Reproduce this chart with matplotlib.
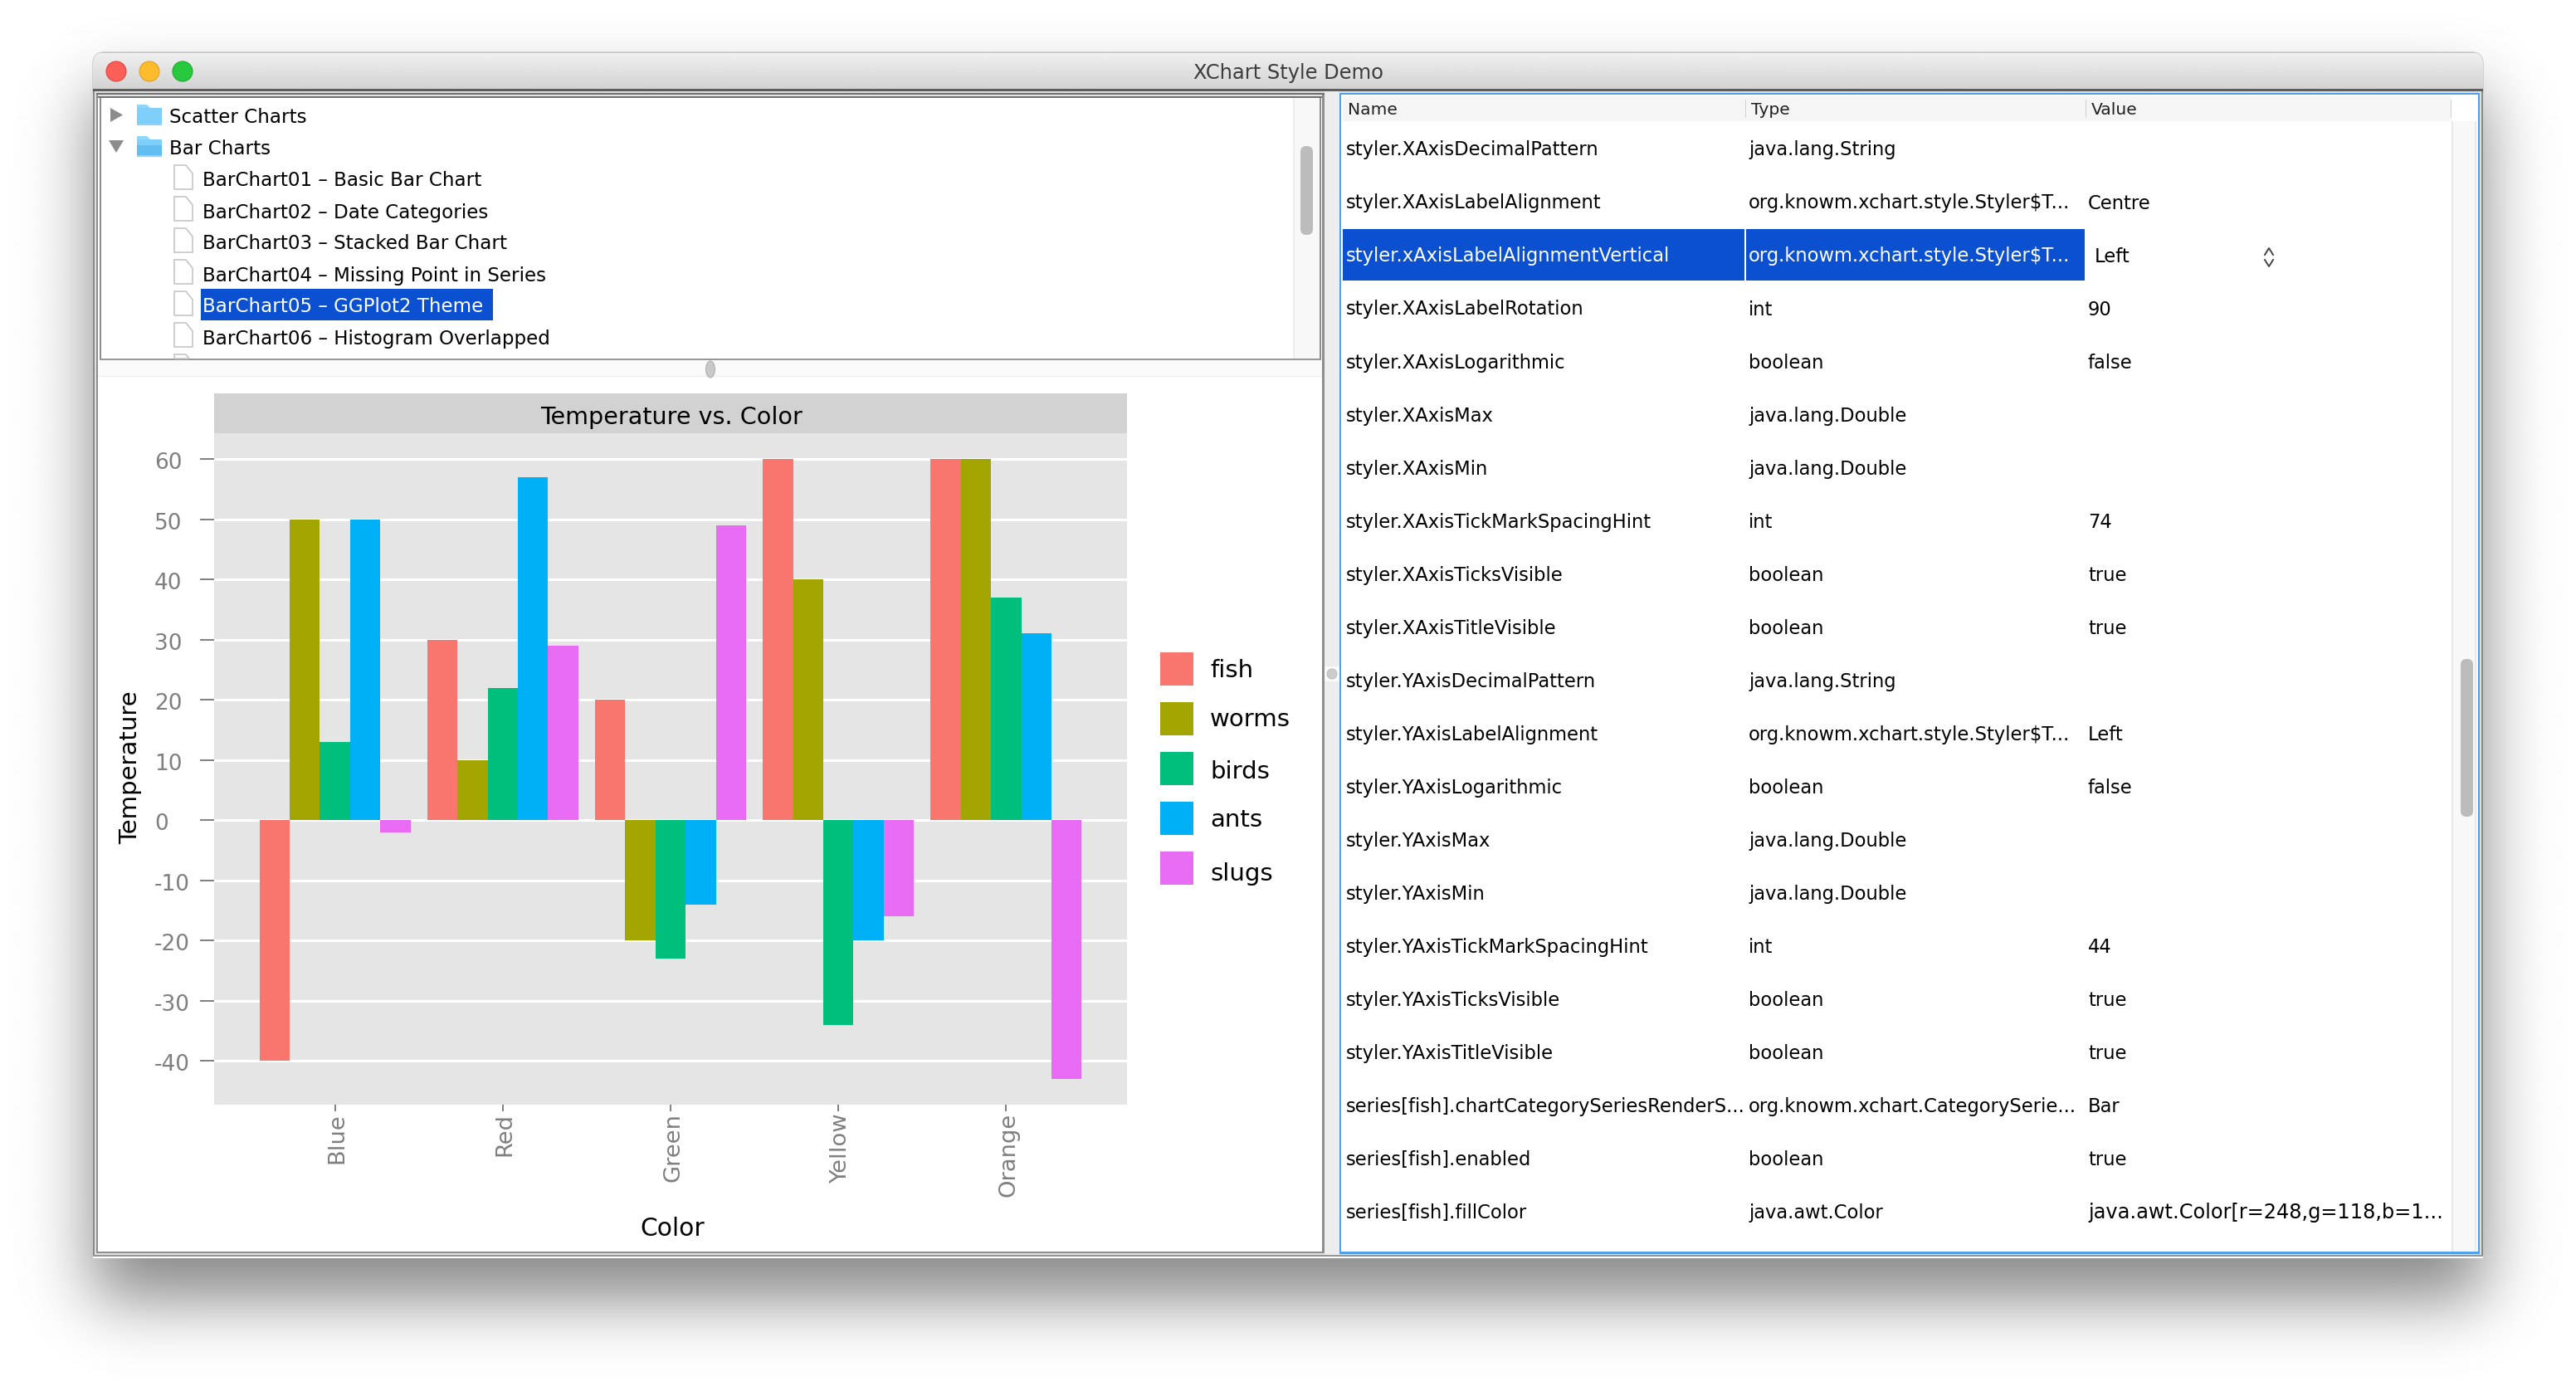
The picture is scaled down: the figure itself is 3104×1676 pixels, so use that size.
import numpy as np
import matplotlib
matplotlib.use("Agg")
import matplotlib.pyplot as plt
from matplotlib.patches import Rectangle, Circle, Polygon, FancyBboxPatch, Ellipse
from matplotlib.transforms import ScaledTranslation

# =========================
# Chart data
# =========================
categories = ["Blue", "Red", "Green", "Yellow", "Orange"]
series_names = ["fish", "worms", "birds", "ants", "slugs"]
fish = [-40, 30, 20, 60, 60]
worms = [50, 10, -20, 40, 60]
birds = [13, 22, -23, -34, 37]
ants = [50, 57, -14, -20, 31]
slugs = [-2, 29, 49, -16, -43]
series_colors = ["#f8766d", "#a3a500", "#00bf7d", "#00b0f6", "#e76bf3"]
y_ticks = [-40, -30, -20, -10, 0, 10, 20, 30, 40, 50, 60]

# =========================
# Window texts
# =========================
tree_folders = ["Scatter Charts", "Bar Charts"]
tree_items = [
    "BarChart01 \u2013 Basic Bar Chart",
    "BarChart02 \u2013 Date Categories",
    "BarChart03 \u2013 Stacked Bar Chart",
    "BarChart04 \u2013 Missing Point in Series",
    "BarChart05 \u2013 GGPlot2 Theme",
    "BarChart06 \u2013 Histogram Overlapped",
]
table_header = ["Name", "Type", "Value"]
row_names = [
    "styler.XAxisDecimalPattern",
    "styler.XAxisLabelAlignment",
    "styler.xAxisLabelAlignmentVertical",
    "styler.XAxisLabelRotation",
    "styler.XAxisLogarithmic",
    "styler.XAxisMax",
    "styler.XAxisMin",
    "styler.XAxisTickMarkSpacingHint",
    "styler.XAxisTicksVisible",
    "styler.XAxisTitleVisible",
    "styler.YAxisDecimalPattern",
    "styler.YAxisLabelAlignment",
    "styler.YAxisLogarithmic",
    "styler.YAxisMax",
    "styler.YAxisMin",
    "styler.YAxisTickMarkSpacingHint",
    "styler.YAxisTicksVisible",
    "styler.YAxisTitleVisible",
    "series[fish].chartCategorySeriesRenderS...",
    "series[fish].enabled",
    "series[fish].fillColor",
]
row_types = [
    "java.lang.String",
    "org.knowm.xchart.style.Styler$T...",
    "org.knowm.xchart.style.Styler$T...",
    "int",
    "boolean",
    "java.lang.Double",
    "java.lang.Double",
    "int",
    "boolean",
    "boolean",
    "java.lang.String",
    "org.knowm.xchart.style.Styler$T...",
    "boolean",
    "java.lang.Double",
    "java.lang.Double",
    "int",
    "boolean",
    "boolean",
    "org.knowm.xchart.CategorySerie...",
    "boolean",
    "java.awt.Color",
]
row_values = [
    "", "Centre", "Left", "90", "false", "", "", "74", "true", "true", "",
    "Left", "false", "", "", "44", "true", "true", "Bar", "true",
    "java.awt.Color[r=248,g=118,b=1...",
]

W, H = 3104, 1676
plt.rcParams["font.family"] = ["DejaVu Sans"]
fig = plt.figure(figsize=(W / 100, H / 100), dpi=100, facecolor="white")

# overlay in pixel coordinates for the window around the chart
bg = fig.add_axes([0, 0, 1, 1], zorder=0)
bg.set_xlim(0, W)
bg.set_ylim(H, 0)
bg.axis("off")


def soft_edge(n, start, stop, sigma=40):
    t = np.arange(n)
    k = np.exp(-0.5 * (np.arange(-160, 161) / sigma) ** 2)
    k /= k.sum()
    return np.convolve(((t >= start) & (t < stop)).astype(float), k, mode="same")


# =========================
# Window shadow
# =========================
shadow = np.outer(soft_edge(H, 112, 1566), soft_edge(W, 112, 2993)) * 0.47
bg.imshow(1 - shadow, cmap="gray", vmin=0, vmax=1, extent=(0, W, H, 0),
          aspect="auto", zorder=0, interpolation="bilinear")


def box(x0, y0, x1, y1, color, z=1):
    bg.add_patch(Rectangle((x0, y0), x1 - x0, y1 - y0, facecolor=color,
                           edgecolor="none", zorder=z))


def label(x, y, s, size=16.3, color="black", ha="left", z=5):
    bg.text(x, y, s, fontsize=size, color=color, ha=ha, va="center",
            zorder=z, parse_math=False)


# =========================
# Frame and title bar
# =========================
box(112, 90, 2992, 1516, "white")
box(112, 100, 2992, 1514, "#e0e0e0", z=1.01)
title_bar = FancyBboxPatch((112, 63), 2880, 60, boxstyle="round,pad=0,rounding_size=14",
                           facecolor="#d6d6d6", edgecolor="#c4c4c4", lw=1, zorder=1)
bg.add_patch(title_bar)
grad = bg.imshow(np.linspace(0.94, 0.825, 50).reshape(-1, 1), cmap="gray", vmin=0, vmax=1,
                 extent=(112, 2992, 107, 64), aspect="auto", zorder=1.1)
grad.set_clip_path(title_bar)
bg.set_xlim(0, W)
bg.set_ylim(H, 0)
box(112, 107, 2992, 110, "#5e5e5e", z=1.2)
box(112, 110, 114, 1514, "#8a8a8a", z=1.2)
box(2990, 110, 2992, 1514, "#8a8a8a", z=1.2)
box(112, 1512, 2992, 1514, "#969696", z=1.2)
box(114, 1514, 2992, 1516, "white", z=1.2)
for cx, c, e in [(140, "#fc5f57", "#e0443e"), (180, "#fdbc2e", "#dea123"), (220, "#28c83f", "#1aab29")]:
    bg.add_patch(Circle((cx, 86), 12, facecolor=c, edgecolor=e, lw=0.8, zorder=3))
label(1552, 88, "XChart Style Demo", size=17.4, color="#3c3c3c", ha="center")

# =========================
# Left side: tree and chart panel
# =========================
box(116, 112, 1596, 1510, "#8e8e8e", z=1.5)
box(116, 112, 1596, 114, "#707070", z=1.55)
box(118, 114, 1593, 1508, "white", z=1.6)
box(118, 114, 1593, 116, "#e4e4e4", z=1.7)
box(118, 116, 1593, 118, "#707070", z=1.7)
box(120, 118, 122, 432, "#8e8e8e", z=1.7)
box(1590, 118, 1592, 432, "#8e8e8e", z=1.7)
box(120, 432, 1592, 434, "#969696", z=1.7)
box(118, 434, 1593, 453, "#fafafa", z=1.7)
box(118, 453, 1593, 454, "#ececec", z=1.7)
bg.add_patch(Ellipse((856, 445), 11, 20, facecolor="#c8c8c8", edgecolor="#a4a4a4", lw=0.6, zorder=2))

# tree scrollbar
box(1558, 118, 1590, 432, "#f8f8f8", z=1.8)
box(1558, 118, 1560, 432, "#ececec", z=1.85)
bg.add_patch(FancyBboxPatch((1567, 176), 15, 107, boxstyle="round,pad=0,rounding_size=7",
                            facecolor="#bcbcbc", edgecolor="none", zorder=2))

# tree arrows
bg.add_patch(Polygon([(133, 130), (148, 138.5), (133, 147)], facecolor="#8c8c8c", edgecolor="none", zorder=3))
bg.add_patch(Polygon([(131, 169), (149, 169), (140, 184)], facecolor="#8c8c8c", edgecolor="none", zorder=3))


def folder(y, dark=False):
    bg.add_patch(Polygon([(165, y - 7), (165, y - 12), (177, y - 12), (181, y - 8), (195, y - 8), (195, y - 7)],
                         facecolor="#8ed6fc", edgecolor="none", zorder=3))
    box(165, y - 8, 195, y + 12, "#7ed0fb", z=3)
    if dark:
        box(165, y - 1, 195, y + 12, "#62bdf0", z=3.1)
    box(165, y + 11, 195, y + 13, "#a6cbe3", z=3.1)


def file_icon(y):
    bg.add_patch(Polygon([(210, y - 14), (224, y - 14), (232, y - 4), (232, y + 15), (210, y + 15)],
                         facecolor="white", edgecolor="#c6c6c6", lw=1.2, zorder=2.5))


folder(138)
folder(176, dark=True)
for i, s in enumerate(tree_folders):
    label(204, 142 + 38 * i, s, size=16.6)

box(242, 348, 594, 386, "#0a50d0", z=2.5)
for i, s in enumerate(tree_items):
    y = 218 + 38 * i
    file_icon(y - 5)
    label(244, y, s, size=16.6, color="white" if i == 4 else "black")

# the next icon is cut off by the bottom of the tree
bg.add_patch(Polygon([(210, 432), (210, 427), (224, 427), (228, 432)], facecolor="white",
                     edgecolor="#c6c6c6", lw=1.2, zorder=2.5))

# =========================
# Right side: property table
# =========================
box(1596, 110, 1614, 1512, "#ededed", z=1.5)
box(1596, 803, 1614, 821, "#fafafa", z=1.55)
bg.add_patch(Circle((1605, 812), 6, facecolor="#cccccc", edgecolor="#b4b4b4", lw=0.6, zorder=2))
box(1614, 112, 2988, 1511, "#4fa2ea", z=1.5)
box(1616, 114, 2986, 1508, "white", z=1.6)
box(1618, 116, 2953, 146, "#f5f5f5", z=1.7)
for sx in [2103, 2513, 2953]:
    box(sx, 120, sx + 1, 142, "#d4d4d4", z=1.8)
for sx, s in zip([1624, 2110, 2520], table_header):
    label(sx, 133, s, size=14.6, color="#222222")

box(2954, 146, 2984, 1508, "#f8f8f8", z=1.8)
box(2954, 146, 2956, 1508, "#e8e8e8", z=1.85)
box(2982, 146, 2984, 1508, "#e8e8e8", z=1.85)
bg.add_patch(FancyBboxPatch((2965, 794), 15, 190, boxstyle="round,pad=0,rounding_size=7",
                            facecolor="#bcbcbc", edgecolor="none", zorder=2))

box(1618, 276, 2102, 338, "#0a50d0", z=2)
box(2104, 276, 2512, 338, "#0a50d0", z=2)
for i in range(len(row_names)):
    y = 181 + 64 * i
    c = "white" if i == 2 else "black"
    label(1622, y, row_names[i], color=c)
    label(2107, y, row_types[i], color=c)
    if i == 2:
        label(2524, y + 1, row_values[i])
    elif i == len(row_names) - 1:
        label(2516, y, row_values[i], size=17.3)
    else:
        label(2516, y, row_values[i])

# spinner arrows of the open combo box
bg.plot([2729, 2734, 2739], [307, 299, 307], color="#444444", lw=1.4, zorder=4)
bg.plot([2729, 2734, 2739], [313, 321, 313], color="#444444", lw=1.4, zorder=4)

# =========================
# Bar chart
# =========================
PL, PR, PT, PB = 258, 1358, 522, 1331
ax = fig.add_axes([PL / W, 1 - PB / H, (PR - PL) / W, (PB - PT) / H], zorder=2)
ax.set_facecolor("#e5e5e5")
for sp in ax.spines.values():
    sp.set_visible(False)

x = np.arange(len(categories))
w = 0.18
for i, vals in enumerate([fish, worms, birds, ants, slugs]):
    ax.bar(x + (i - 2) * w, vals, w, color=series_colors[i], zorder=3)

ax.set_xlim(-0.72, 4.72)
ax.set_ylim(-47.3, 64.3)
ax.set_yticks(y_ticks)
ax.set_yticklabels([str(v) for v in y_ticks], ha="left")
ax.set_xticks(x)
ax.set_xticklabels(categories, rotation=90, ha="center", va="top")
ax.grid(axis="y", color="white", lw=2.2, zorder=1)
ax.tick_params(axis="y", length=12, width=1.4, color="#7f7f7f", labelcolor="#7f7f7f",
               labelsize=19, pad=40)
ax.tick_params(axis="x", length=6, width=1.4, color="#7f7f7f", labelcolor="#7f7f7f",
               labelsize=19.7, pad=1.2)
for t in ax.get_yticklabels():
    t.set_transform(t.get_transform() + ScaledTranslation(0, -2 / 100, fig.dpi_scale_trans))
for t in ax.get_xticklabels():
    t.set_transform(t.get_transform() + ScaledTranslation(3 / 100, 0, fig.dpi_scale_trans))

# title strip, axis titles and legend sit on the overlay at their measured places
box(258, 474, 1358, 522, "#d2d2d2", z=2)
label(809, 503, "Temperature vs. Color", size=20.6, ha="center")
label(810, 1480, "Color", size=21.4, ha="center")
bg.text(157, 925, "Temperature", fontsize=21, rotation=90, ha="center", va="center", zorder=5)

legend_tops = [786, 846, 906, 966, 1026]
legend_text_y = [808, 867, 930, 988, 1053]
for name, c, top, ty in zip(series_names, series_colors, legend_tops, legend_text_y):
    box(1398, top, 1438, top + 40, c, z=3)
    label(1458, ty, name, size=21)

fig.savefig("out.png", dpi=100)
print("saved")
